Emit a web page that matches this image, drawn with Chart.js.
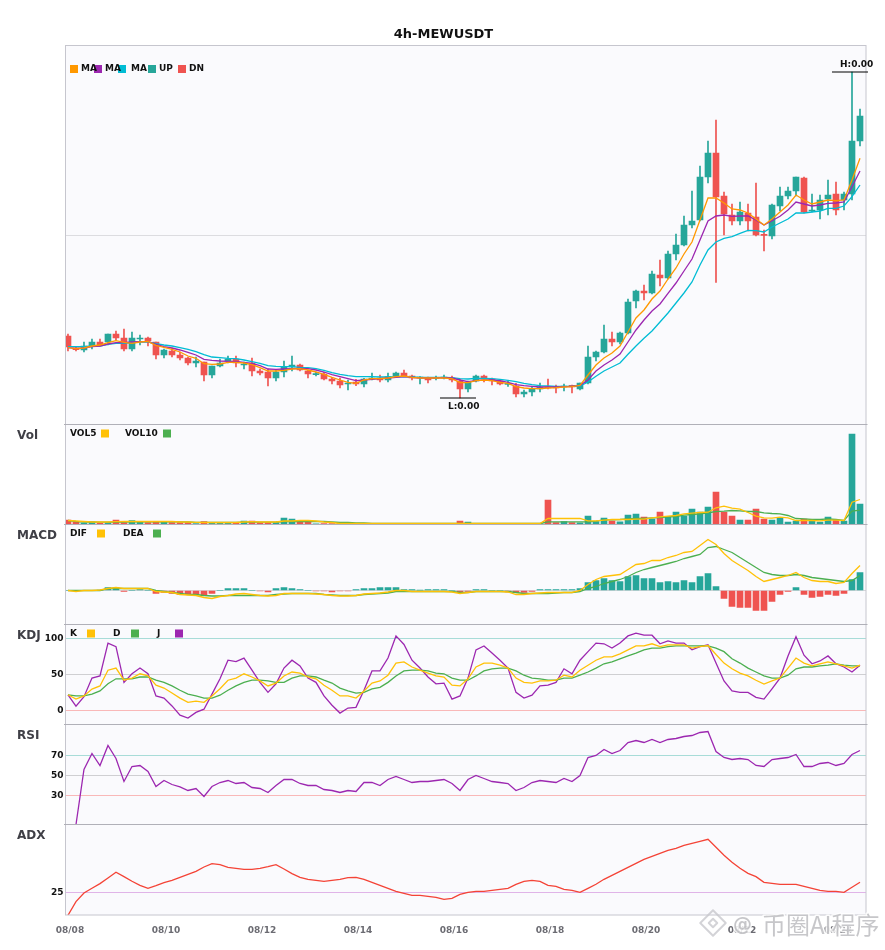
<!DOCTYPE html>
<html>
<head>
<meta charset="utf-8">
<title>4h-MEWUSDT</title>
<script src="https://cdn.jsdelivr.net/npm/chart.js@4/dist/chart.umd.min.js"></script>
<style>
  html, body { margin: 0; padding: 0; background: #fff; }
  canvas { display: block; }
</style>
</head>
<body>
<canvas id="kline" width="885" height="950"></canvas>
<script>
var dates = ["08/08","08/10","08/12","08/14","08/16","08/18","08/20","08/22","08/24"];

// price values (only the relative scale is visible, the axis prints 0.00)
var openP = [88.5,76.5,74.5,78.5,82.5,82.5,90.5,86.5,75.5,85.5,
  86.5,82.5,69.5,73.5,69.5,66.5,61.5,62.5,49.5,58.5,
  63.5,65.5,59.5,61.5,53.5,52.5,46.5,52.5,57.5,59.5,
  53.5,49.8,50.5,45.5,43.5,40.5,42.5,40.5,45.5,46.5,
  44.5,48.5,51.5,48.5,46.5,46.5,46.2,46.5,46.5,43.5,
  35.5,43.5,48.5,45.5,43.5,40.2,38.5,30.5,32.5,35.5,
  37.5,37.5,37.5,39.2,35.5,41.5,67.5,72.5,85.5,82.5,
  91.5,123.5,133.5,131.5,149.5,146.5,170.5,179.5,199.5,204.5,
  247.5,271.5,228.5,209.5,203.5,211.5,207.5,189.5,188.5,218.5,
  228.5,233.5,246.5,213.5,214.5,225.5,230.5,224.5,230.5,283.5];
var closeP = [77.5,74.8,78.5,82.5,79.5,90.5,86.5,75.5,86.5,86.2,
  83.5,69.5,74.5,69.5,66.5,61.5,63.5,49.5,58.5,61.5,
  65.5,61.5,60.5,53.5,51.5,46.5,52.5,57.5,59.5,54.5,
  50.5,50.5,45.5,43.5,39.5,41.5,40.5,45.5,46.5,44.5,
  47.8,51.5,48.5,46.5,46.8,44.5,46.5,47.2,44.5,35.5,
  42.5,48.5,45.5,43.5,40.5,41.2,30.5,32.5,35.5,37.5,
  36.5,36.5,37.8,37.5,41.5,67.5,72.5,85.5,82.5,91.5,
  122.5,133.5,131.5,150.5,146.5,170.5,179.5,199.5,203.5,247.5,
  271.5,227.5,210.5,203.5,212.5,203.5,189.5,189.2,219.5,228.5,
  233.5,247.5,212.5,214.5,224.5,229.5,214.5,230.5,283.5,308.5];
var highP = [90.5,77.5,82.5,85.5,85.5,90.5,93.5,95.5,92.5,89.5,
  87.5,82.5,75.5,76.5,72.5,67.5,67.5,62.5,58.5,65.5,
  68.5,68.5,62.5,66.5,55.5,55.5,54.5,63.5,68.5,60.5,
  54.5,52.5,52.5,47.2,46.5,44.5,45.2,46.2,51.5,49.5,
  51.5,52.5,54.5,49.5,47.8,47.5,48.5,49.5,48.5,45.5,
  43.5,49.5,49.5,46.5,44.5,43.2,41.2,34.5,37.5,41.5,
  45.5,39.5,40.5,39.5,41.5,78.5,73.5,99.5,92.5,92.5,
  125.5,134.5,139.5,153.5,164.5,173.5,190.5,208.5,233.5,258.5,
  283.5,304.5,232.5,220.5,222.5,220.5,241.5,194.5,220.5,237.5,
  237.5,247.5,247.5,230.5,229.5,244.5,242.5,232.5,352.5,315.5];
var lowP = [73.5,73.5,72.5,75.5,78.5,79.5,84.5,73.5,73.5,79.5,
  78.5,65.5,66.5,67.5,64.5,59.5,57.5,43.5,46.5,57.5,
  61.5,57.5,55.5,48.5,49.5,38.5,43.5,47.5,53.5,53.5,
  46.5,48.5,44.5,40.5,36.5,34.5,38.8,37.5,44.5,42.5,
  42.5,47.8,47.8,44.5,40.5,41.5,44.5,45.5,42.5,26.5,
  32.5,42.5,42.5,39.5,39.5,38.2,27.5,27.5,28.5,32.5,
  35.5,31.5,33.5,31.5,34.5,40.5,63.5,71.5,78.5,80.5,
  90.5,116.5,124.5,130.5,138.5,145.5,164.5,178.5,196.5,203.5,
  241.5,142,189.5,199.5,199.5,193.5,188.5,173.5,185.5,213.5,
  225.5,228.5,211.5,212.5,205.5,209.5,209.5,214.5,224.5,278.5];

var ma5 = [76.8,75.8,76.5,78.5,79.5,81.8,83.8,82.2,81.2,82.5,
  83.2,79.2,77.2,75.2,72.5,68.5,66.2,60.8,60.2,60.5,
  62.2,62.2,61.5,59.8,56.8,53.5,53.5,54.2,55.5,55.8,
  54.5,52.5,50.2,47.2,44.5,42.2,41.2,44.5,45.8,45.8,
  46.5,47.8,48.5,47.2,46.5,46.5,46.5,46.5,45.8,41.8,
  41.8,43.8,44.5,43.8,42.2,41.2,37.8,36.5,35.8,35.8,
  36.5,36.8,37.5,37.8,39.2,49.5,59.5,66.5,71.5,78.5,
  92.5,106.5,114.5,125.5,133.5,145.5,156.5,170.5,182.5,204.5,
  226.5,226.5,221.5,215.5,214.5,211.5,205.5,199.5,205.5,212.5,
  219.5,229.5,224.5,220.5,222.5,224.5,223.8,224.5,244.5,266.2];
var ma10 = [76.8,76.2,76.5,77.8,78.5,80.5,81.8,81.8,82.5,82.8,
  82.8,80.2,77.8,76.5,74.5,72.2,69.5,65.2,64.2,63.5,
  63.2,63.2,62.2,61.2,58.8,55.5,55.2,55.5,55.8,56.2,
  55.8,54.5,52.5,49.8,47.8,45.8,43.8,44.5,45.2,45.8,
  46.5,47.2,47.8,47.2,46.5,46.5,46.5,46.8,46.5,44.5,
  42.8,43.8,44.5,44.5,43.8,42.2,39.8,38.8,38.2,37.5,
  37.5,37.5,37.8,38.2,39.2,44.5,53.5,59.5,64.5,70.5,
  82.5,94.5,104.5,113.5,120.5,131.2,141.5,153.5,165.5,184.5,
  203.5,208.5,209.5,208.2,208.5,208.5,204.5,199.5,203.8,208.2,
  214.5,222.5,220.5,218.5,219.5,221.2,221.5,222.5,237.8,253.5];
var ma20 = [77.8,77.8,77.8,78.5,78.5,80.2,81.2,81.2,81.8,82.5,
  82.5,80.8,79.5,78.5,76.8,75.2,72.8,69.8,67.5,66.8,
  66.2,65.8,64.5,62.8,61.2,58.8,58.2,57.8,57.8,57.2,
  56.8,55.8,54.2,51.8,50.2,48.8,47.8,47.8,47.8,47.5,
  47.5,47.5,47.8,47.5,47.2,47.2,47.2,47.2,46.8,45.8,
  45.5,46.2,46.2,45.8,45.2,44.2,42.8,41.2,39.8,38.8,
  38.5,38.2,38.2,38.2,38.5,42.5,48.2,53.5,57.5,61.5,
  70.2,78.5,86.2,93.5,102.5,111.5,121.5,131.5,142.5,159.5,
  174.5,182.5,186.2,187.8,191.2,194.2,193.8,192.5,197.5,201.5,
  205.5,211.5,211.5,212.5,213.5,216.2,216.2,218.5,227.8,239.5];

var vol = [4.5,2.5,1.5,2.5,1.5,2,4.3,2,4,2.5,
  2,3,3,2,2,2,1,3,2,2,
  2,2,3.5,3.5,2,2,2,6.5,5.5,3,
  3,0.7,1,1,1,1,1,1,1,1,
  1,0.7,1,1,0.7,0.7,0.7,0.7,0.7,3.3,
  2.3,1,1,1,0.7,0.7,0.7,0.7,0.7,0.7,
  24.3,2,3,2,1.7,8.3,3,6.3,3.3,2.7,
  9.3,10.3,7.3,5.3,12.3,7.3,12.3,8.3,15.3,12.3,
  17.3,32.3,12.3,8.3,4.3,4.3,15.3,5.3,4.3,6.3,
  2.3,3.3,5.3,3.3,2.3,7.3,4.3,3.3,90.3,20.3];
var vol5 = [4,3.5,3,2.5,2.5,2.5,2.8,3,3,3,
  3,3,3,3,2.5,2.5,2.2,2,2,2,
  2,2,2.5,2.8,2.5,2.5,2.5,3.5,3.5,4,
  4,3.5,2.5,2,1,1,1,1,1,1,
  1,1,1,1,1,1,1,1,1,1,
  1,1,1,1,1,1,1,1,1,1,
  6,6,6,6,6,3.7,3.7,4.3,5,5,
  5,5.3,5.3,6.7,7.7,8.3,9,10.7,11.3,12,
  12.3,16.7,18.3,16.3,15.3,12,8.3,6.7,6.3,7.3,
  6.7,4,4,4,3.7,4.3,4.3,4,22.3,25];
var vol10 = [4,3,2.5,2.5,2.3,2.3,2.5,2.5,2.7,2.7,
  2.7,2.7,2.7,2.7,2.7,2.5,2.2,2.2,2.2,2.2,
  2.2,2.2,2.3,2.4,2.4,2.4,2.5,3,3,3,
  3,3,3,2.5,2,2,1.5,1.5,1.2,1,
  1,1,1,1,1,1,1,1,1,1,
  1,1,1,1,1,1,1,1,1,1,
  2.7,2.7,2.7,2.7,2.7,2.7,3.3,4.7,4.7,5,
  5.7,6,6,6.7,7,7.7,8,9.3,10,10.7,
  11.7,13,13.3,14,13.7,13,13,11.7,11,10.7,
  9,6,5.7,5,5,5.7,5,4,13.3,14.3];

var macdHist = [0,0,0,0,0.5,3,3,-1,0,1,
  0,-3,-2,-3,-4,-4,-4,-5,-3,0,
  2,2,2,0,-0.5,-1.5,2,3,2,1,
  0,-0.5,-0.5,-1.5,-0.5,-0.5,1,2,2,3,
  3,3,1,1,0.3,1,1,1,0,-1.5,
  -1,1,1,0,0,-1.5,-2,-2,-1,1,
  1,1,1,1,2,8,10,12,10,9,
  14,15,12,12,8,9,8,10,8,14,
  17,4,-8,-16,-17,-17,-20,-20,-11,-4,
  -1,3,-4,-7,-6,-4,-5,-3,11,18];
var dif = [0,-1,0,0,0.5,2,3,2,2,2,
  2,-1,-1.5,-2,-4,-4.5,-5,-7,-8,-6,
  -5,-3.5,-3,-4,-5,-5.5,-5,-3,-3,-3,
  -3,-3.5,-4,-5,-5.5,-5.5,-5,-3.5,-3,-2.5,
  -1.5,0,0,-1,-1,-1,-1,-1,-1.5,-3,
  -2,-1,-1,-1,-1,-1.5,-4,-4,-3,-2.5,
  -2,-2,-2,-2,0,6,11,14,15,16,
  21,26,27,30,30,33,35,38,39,45,
  51,46,37,30,25,20,14,9,11,13,
  15,18,13,10,9,9,7,8,17,25];
var dea = [0,0,0,0,0,2,2,2,2,2,
  2,0,-1,-2,-3,-4,-4,-5,-5.5,-5.5,
  -5,-5,-5,-5,-5,-5,-4,-3.5,-3,-3,
  -3,-3,-4,-4.5,-5,-5,-5,-4,-3.5,-3,
  -2.5,-1,-1,-1,-1,-1,-1,-1,-1,-2,
  -2,-1,-1,-1,-1,-1,-2,-3,-3,-3,
  -3,-2.5,-2,-2,-1,2,4,7,9,11,
  14,18,21,23,25,27,29,32,34,36,
  43,44,41,38,33,28,23,18,16,15,
  15,16,15,13,12,11,10,9,10,15];

var kdjK = [21.6,15.5,20,29.6,34,56,59,42,45,51,
  48,35,31,24,17,11,12.7,11,20,30,
  42,45,51,46.5,41,34,38,48,53.5,52,
  46.5,44,35,28,20,20,17,27,38,41,
  49,66,67.6,60.5,56,52,48,46.5,35,34,
  44,60.5,66,66,63,59,45,39,38,41,
  41,42,49,46.5,56,63,70,74.6,74.6,79,
  84.5,90,90,93,89,91.5,91.5,91.5,87,89,
  90.6,78,66,58,52,48,42,36.6,41,45,
  59,73,66,62,65,67.6,65,62,59,63];
var kdjD = [21.6,20,20,22.5,27,37,44,44,44,46.5,
  46.5,42,39,34,28,22.5,20,17,17,21,
  28,34,39,42,42,41,39,39,45,48,
  48,46.5,42,38,31,27,24,25,30,32,
  39,48,55,56,56,55,52,51,45,42,
  42,48,55,58,59,59,55,49,45,44,
  42,42,45,45,49,53.5,59,65,67.6,72,
  76,80,84.5,87,87,89,90,90,90,90,
  90,87,82,72,66,59,53.5,48,45,45,
  49,58,60.5,60.5,62,63,65,63,62,62];
var kdjJ = [21.6,5.6,19,45,48,94,89,39,51,59,
  51,20,17,6,-7,-11,-3,1.4,22.5,44,
  70,68,73,56,39,25,37,59,70,62,
  45,39,20,7,-4,3,4,28,55,55,
  73,104,92,70,59,46.5,37,38,15.5,20,
  45,84.5,90,80,70,59,25,17,21,34,
  35,39,58,51,70,82,94,93,87,94,
  104,108,105,105,93,97,94,94,84.5,89,
  91.5,66,41,27,25,25,18,15.5,30,45,
  76,103,77,65,69,76,65,60.5,53.5,63];

var rsi = [0,1,56,72,60,80,67,44,59,60,
  54,39,45,41,38.7,35,37,29,39,43,
  45,42,43,38,37,33,40,46,46,42,
  40,40,36,35,33,35,34,43,43,40,
  46,49,46,43,44,44,45,46,42,35,
  46,50,47,44,43,42,35,38,43,45,
  44,43,47,44,50,68,70,76,72,75,
  83,85,83,86,83,86,87,89,90,93,
  94,74,68,66,67,66,60,59,66,67,
  68,71,59,59,62,63,60,62,71,75];
var adx = [2,15.7,24.3,29,33.7,39.3,45,40.7,36,32,
  29,31.7,34.7,37,40,43,46,50.3,53.7,52.7,
  50,49,48,48,49,50.7,52.7,48.3,43.7,40,
  38,37,36,37,38,39.7,40,38,35,32,
  29,26,24,22,22,21,20,18,19,23,
  25,26,26,27,28,29,33,36,37,36,
  32,31,28,27,25,29,33,38,42,46,
  50,54,58,61,64,67,69,72,74,76,
  78,70,62,55,49,44,40.7,35,34,33,
  33,33,31,29,27,26,26,25,30,35];

var UP = "#26a69a", DN = "#ef5350";
var isUp = closeP.map(function(c, i){ return c >= openP[i]; });
var candleColors = isUp.map(function(u){ return u ? UP : DN; });

function pts(arr){
    return arr.map(function(v, i){ return {x: i, y: v}; });
}
function line(arr, color, yAxis){
    return {type: "line", data: pts(arr), borderColor: color, borderWidth: 1.3, pointRadius: 0,
        tension: 0, fill: false, yAxisID: yAxis, order: 1};
}
function bars(data, colors, yAxis, thick, order, minLen){
    return {type: "bar", data: data, backgroundColor: colors, borderWidth: 0, barThickness: thick,
        grouped: false, yAxisID: yAxis, order: order, minBarLength: minLen || 0};
}

var wicks = lowP.map(function(l, i){ return {x: i, y: [l, highP[i]]}; });
var bodies = openP.map(function(o, i){
    return {x: i, y: [Math.min(o, closeP[i]), Math.max(o, closeP[i])]};
});

// one y axis per pane, stacked on the left; gridColors go with ticks by position
function pane(min, max, weight, order, ticks, showLabels, gridColors){
    return {
        type: "linear", position: "left", stack: "panes", stackWeight: weight, weight: order,
        min: min, max: max,
        border: {display: false},
        grid: {drawTicks: false, lineWidth: 1, color: gridColors},
        ticks: {display: showLabels, padding: 2, color: "#111", font: {family: "DejaVu Sans", size: 9, weight: "bold"},
            autoSkip: false},
        afterBuildTicks: function(s){ s.ticks = ticks.map(function(v){ return {value: v}; }); },
        afterFit: function(s){ s.width = 65.5; }
    };
}

var panePlugin = {
    id: "panes",
    beforeDraw: function(chart){
        var c = chart.ctx, a = chart.chartArea;
        c.save();
        c.fillStyle = "#fafafd";
        c.fillRect(a.left, a.top, a.right - a.left, a.bottom - a.top);
        c.restore();
    },
    afterDraw: function(chart){
        var c = chart.ctx, a = chart.chartArea, s = chart.scales;
        c.save();
        // frame and pane separators
        c.strokeStyle = "#c6c6ce";
        c.lineWidth = 1;
        c.strokeRect(a.left, a.top, a.right - a.left, a.bottom - a.top);
        c.strokeStyle = "#b0b0b8";
        c.lineWidth = 1.2;
        ["yVol","yMacd","yKdj","yRsi","yAdx"].forEach(function(id){
            c.beginPath();
            c.moveTo(a.left - 1.5, s[id].top);
            c.lineTo(a.right + 1.5, s[id].top);
            c.stroke();
        });

        // title
        c.fillStyle = "#111";
        c.font = "bold 13px 'DejaVu Sans'";
        c.textAlign = "center";
        c.textBaseline = "middle";
        c.fillText("4h-MEWUSDT", 443.5, 34.5);
        c.textAlign = "left";

        // pane names
        c.fillStyle = "#3f3f46";
        c.font = "bold 12px 'DejaVu Sans'";
        [["Vol","yVol"],["MACD","yMacd"],["KDJ","yKdj"],["RSI","yRsi"],["ADX","yAdx"]].forEach(function(p){
            c.fillText(p[0], 17, s[p[1]].top + 11);
        });

        // legends: label x, square x, colour
        function legend(items, y){
            c.font = "bold 9px 'DejaVu Sans'";
            items.forEach(function(it){
                c.fillStyle = "#111";
                c.fillText(it[0], it[1], y);
                c.fillStyle = it[3];
                c.fillRect(it[2], y - 4, 8, 8);
            });
        }
        var top = a.top + 23.5;
        c.font = "bold 9px 'DejaVu Sans'";
        [[70,"#ff9800"],[94,"#9c27b0"],[118,"#00bcd4"],[148,UP],[178,DN]].forEach(function(q){
            c.fillStyle = q[1];
            c.fillRect(q[0], top - 4, 8, 8);
        });
        c.fillStyle = "#111";
        [["MA",81],["MA",105],["MA",131],["UP",159],["DN",189]].forEach(function(t){
            c.fillText(t[0], t[1], top);
        });
        legend([["VOL5",70,101,"#ffc107"],["VOL10",125,163,"#4caf50"]], s.yVol.top + 9);
        legend([["DIF",70,97,"#ffc107"],["DEA",123,153,"#4caf50"]], s.yMacd.top + 9);
        legend([["K",70,87,"#ffc107"],["D",113,131,"#4caf50"],["J",157,175,"#9c27b0"]], s.yKdj.top + 9);

        // high / low markers follow the data
        var hi = Math.max.apply(null, highP), lo = Math.min.apply(null, lowP);
        var hiX = s.x.getPixelForValue(highP.indexOf(hi)), loX = s.x.getPixelForValue(lowP.indexOf(lo));
        var hiY = s.yMain.getPixelForValue(hi), loY = s.yMain.getPixelForValue(lo);
        c.strokeStyle = "#000";
        c.lineWidth = 1;
        c.beginPath();
        c.moveTo(hiX - 20, hiY); c.lineTo(hiX + 16, hiY);
        c.moveTo(loX - 20, loY); c.lineTo(loX + 16, loY);
        c.stroke();
        c.fillStyle = "#111";
        c.font = "bold 9px 'DejaVu Sans'";
        c.fillText("H:0.00", hiX - 12, hiY - 7);
        c.fillText("L:0.00", loX - 12, loY + 8.5);

        // watermark of the source image
        c.lineJoin = "round";
        c.font = "24px 'Noto Sans CJK SC'";
        c.strokeStyle = "rgba(255,255,255,0.85)";
        c.lineWidth = 3;
        c.strokeText("币圈AI程序", 762, 925);
        c.fillStyle = "rgba(175,175,180,0.7)";
        c.fillText("币圈AI程序", 762, 925);
        c.font = "bold 19px 'DejaVu Sans'";
        c.strokeText("@", 733, 926);
        c.fillText("@", 733, 926);
        c.strokeStyle = "rgba(200,200,205,0.8)";
        c.lineWidth = 2;
        c.translate(713, 923);
        c.rotate(Math.PI / 4);
        c.strokeRect(-9, -9, 18, 18);
        c.strokeRect(-3, -3, 6, 6);
        c.restore();
    }
};

new Chart(document.querySelector("#kline"), {
    data: {
        datasets: [
            line(ma5, "#ff9800", "yMain"),
            line(ma10, "#9c27b0", "yMain"),
            line(ma20, "#00bcd4", "yMain"),
            bars(bodies, candleColors, "yMain", 6, 2, 1),
            bars(wicks, candleColors, "yMain", 1, 3),

            line(vol5, "#ffc107", "yVol"),
            line(vol10, "#4caf50", "yVol"),
            bars(pts(vol), candleColors, "yVol", 6, 2),

            line(dif, "#ffc107", "yMacd"),
            line(dea, "#4caf50", "yMacd"),
            bars(pts(macdHist), macdHist.map(function(v){ return v >= 0 ? UP : DN; }), "yMacd", 6, 2),

            line(kdjK, "#ffc107", "yKdj"),
            line(kdjD, "#4caf50", "yKdj"),
            line(kdjJ, "#9c27b0", "yKdj"),

            line(rsi, "#9c27b0", "yRsi"),
            line(adx, "#f44336", "yAdx")
        ]
    },
    options: {
        responsive: false,
        animation: false,
        layout: {padding: {right: 19, left: 0, top: 45.5, bottom: 0}},
        plugins: {
            legend: {display: false},
            tooltip: {enabled: false},
            title: {display: false}
        },
        scales: {
            x: {
                type: "linear", min: -0.31, max: 99.75, offset: false,
                border: {display: false},
                grid: {display: false, offset: false},
                ticks: {autoSkip: false, maxRotation: 0, padding: 2, labelOffset: 2, color: "#6b6b72",
                    font: {family: "DejaVu Sans", size: 9, weight: "bold"},
                    callback: function(v){ return dates[v / 12]; }},
                afterBuildTicks: function(s){ s.ticks = dates.map(function(d, k){ return {value: k * 12}; }); },
                afterFit: function(s){ s.height = 35; }
            },
            yMain: pane(0, 379, 379, 6, [189.5], false, ["#dcdce0"]),
            yVol: pane(0, 100, 100, 5, [], false, ["transparent"]),
            yMacd: pane(-34, 66, 100, 4, [0], false, ["#d6d6da"]),
            yKdj: pane(-20, 120, 100, 3, [0, 50, 100], true, ["#f9b8b8", "#cfcfd2", "#a8dcd8"]),
            yRsi: pane(1, 101, 100, 2, [30, 50, 70], true, ["#f9b8b8", "#cfcfd2", "#a8dcd8"]),
            yAdx: pane(2.3, 92.8, 90.5, 1, [25], true, ["#e0b4e8"])
        }
    },
    plugins: [panePlugin]
});
</script>
</body>
</html>
